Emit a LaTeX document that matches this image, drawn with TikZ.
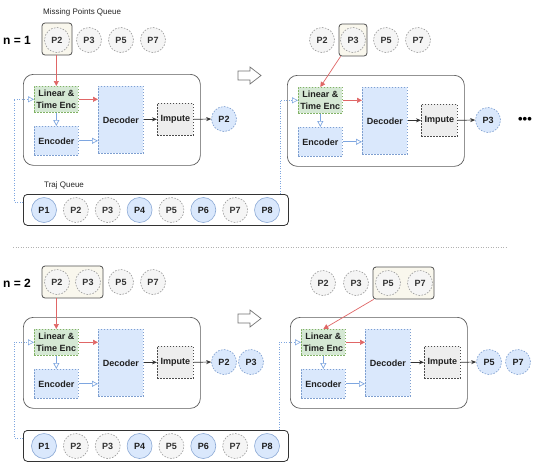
\documentclass[tikz,border=0pt]{standalone}
\usepackage{fontspec}
\setmainfont{Liberation Sans}
\usetikzlibrary{arrows.meta,calc}
\definecolor{gfill}{HTML}{D5E8D4}\definecolor{gline}{HTML}{82B366}
\definecolor{bfill}{HTML}{DAE8FC}\definecolor{bline}{HTML}{7E9FD0}
\definecolor{qfill}{HTML}{F5F5F5}\definecolor{qline}{HTML}{9A9A9A}
\definecolor{selfill}{HTML}{F9F7ED}\definecolor{selline}{HTML}{505050}
\definecolor{redarr}{HTML}{E06666}\definecolor{bluearr}{HTML}{7EA6E0}
\definecolor{panline}{HTML}{5A5A5A}\definecolor{impfill}{HTML}{EEEEEE}
\tikzset{
  x=1pt,y=-1pt,
  lbl/.style={font=\fontsize{9}{11.5}\selectfont\bfseries, align=center, inner sep=0pt, text=black!88},
  dsh/.style={dash pattern=on 1.6pt off 1.4pt, line width=0.6pt},
  panelbox/.style={anchor=north west, draw=panline, line width=0.7pt, rounded corners=10pt, fill=white, inner sep=0pt},
  linbox/.style={lbl, anchor=north west, dsh, draw=gline, fill=gfill},
  encbox/.style={lbl, anchor=north west, dsh, draw=bline, fill=bfill},
  impbox/.style={lbl, anchor=north west, dsh, draw=black!70, fill=impfill},
  qc/.style={lbl, circle, minimum size=25pt, dsh, draw=qline, fill=qfill, text=black!80},
  bc/.style={lbl, circle, minimum size=25pt, dsh, draw=bline, fill=bfill},
  bcs/.style={lbl, circle, minimum size=25pt, line width=0.6pt, draw=bline!90, fill=bfill},
  selbox/.style={draw=selline, line width=0.8pt, fill=selfill, rounded corners=3pt, inner sep=0pt},
  trajbox/.style={anchor=north west, draw=black!80, line width=0.8pt, rounded corners=4pt, minimum width=265pt, minimum height=31pt, inner sep=0pt},
  redline/.style={draw=redarr, line width=0.7pt, -{Triangle[length=5pt,width=5pt]}},
  blueline/.style={draw=bluearr, line width=0.7pt, -{Triangle[open,length=6pt,width=6pt]}},
  blackline/.style={draw=black!80, line width=0.7pt, -{Stealth[length=5pt,width=4pt]}},
  dotline/.style={draw=bluearr, line width=0.6pt, dash pattern=on 1pt off 1.5pt, -{Triangle[open,length=6pt,width=6pt]}},
  hollowarrow/.style={draw=black!55, line width=0.7pt, fill=white, line join=miter},
  divider/.style={draw=black!30, line width=0.7pt, dash pattern=on 1pt off 1.5pt},
  smalltxt/.style={font=\fontsize{8}{9}\selectfont, anchor=west, inner sep=0pt, text=black!85},
  bigtxt/.style={font=\fontsize{12}{14}\selectfont\bfseries, anchor=west, inner sep=0pt},
}
\newcommand{\mypanel}[3]{%
  \begin{scope}[shift={(#2,#3)}]
    \node[panelbox, minimum width=177pt, minimum height=91pt] (#1pan) at (0,0) {};
    \node[linbox, minimum width=44pt, minimum height=26pt] (#1lin) at (11,12) {Linear \&\\Time Enc};
    \node[encbox, minimum width=44pt, minimum height=29pt] (#1enc) at (11,52) {Encoder};
    \node[encbox, minimum width=45pt, minimum height=67pt] (#1dec) at (75,12) {Decoder};
    \node[impbox, minimum width=36pt, minimum height=32pt] (#1imp) at (134,29) {Impute};
  \end{scope}
  \draw[redline] (#1lin.east) -- (#1lin.east -| #1dec.west);
  \draw[blueline] (#1lin.south) -- (#1enc.north);
  \draw[blueline] (#1enc.east) -- (#1enc.east -| #1dec.west);
  \draw[blackline] (#1imp.west -| #1dec.east) -- (#1imp.west);
}
\begin{document}
\begin{tikzpicture}
\useasboundingbox (0,0) rectangle (540,464);
\fill[white] (0,0) rectangle (540,464);

% ---------- n = 1 ----------
\node[bigtxt] (n1) at (3,40) {n = 1};
\node[smalltxt] (mpq) at (43,12) {Missing Points Queue};
\node[selbox, minimum width=30pt, minimum height=32pt] (TLsel) at (57,39) {};
\node[qc] (TLq1) at (57,40) {P2};
\node[qc] (TLq2) at (89,40) {P3};
\node[qc] (TLq3) at (121,40) {P5};
\node[qc] (TLq4) at (153,40) {P7};

\node[selbox, minimum width=28pt, minimum height=32pt] (TRsel) at (353,40) {};
\node[qc] (TRq1) at (322,40) {P2};
\node[qc] (TRq2) at (353,40) {P3};
\node[qc] (TRq3) at (386,40) {P5};
\node[qc] (TRq4) at (418,40) {P7};

\mypanel{TL}{23}{74}
\mypanel{TR}{287}{75}

\node[bc] (TLo) at (224,119) {P2};
\node[bc] (TRo) at (488,120) {P3};
\node[font=\fontsize{13}{14}\selectfont\bfseries, inner sep=0pt] (dots) at (525,120) {\textbullet\textbullet\textbullet};
\draw[blackline] (TLimp.east) -- (TLo.west);
\draw[blackline] (TRimp.east) -- (TRo.west);

\draw[redline] (TLsel.south -| TLlin.north) -- (TLlin.north);
\draw[redline] ([xshift=2pt]TRsel.south west) -- (TRlin.north);

\draw[hollowarrow] (238,71) -- (250,71) -- (250,67) -- (261,75.5) -- (250,84) -- (250,80) -- (238,80) -- cycle;

\node[smalltxt] (tq) at (44,185) {Traj Queue};
\node[trajbox] (traj1) at (23,194) {};
\coordinate (t1a) at ([yshift=7.5pt]traj1.west);
\coordinate (t1b) at ([xshift=-9pt]traj1.north east);
\draw[dotline] (t1a) -- ++(-9,0) |- (TLlin.west);
\draw[dotline] (t1b) |- (TRlin.west);
\foreach \i/\lab/\st in {0/P1/bcs,1/P2/qc,2/P3/qc,3/P4/bcs,4/P5/qc,5/P6/bcs,6/P7/qc,7/P8/bcs}{
  \node[\st] (ta\i) at ({44+31.86*\i},210) {\lab};
}

\draw[divider] (13,247) -- (508,247);

% ---------- n = 2 ----------
\node[bigtxt] (n2) at (3,283) {n = 2};
\node[selbox, minimum width=61pt, minimum height=32pt] (BLsel) at (72.5,282) {};
\node[qc] (BLq1) at (57,282) {P2};
\node[qc] (BLq2) at (88,282) {P3};
\node[qc] (BLq3) at (121,282) {P5};
\node[qc] (BLq4) at (153,282) {P7};

\node[selbox, minimum width=61pt, minimum height=32pt] (BRsel) at (403.5,283) {};
\node[qc] (BRq1) at (323,283) {P2};
\node[qc] (BRq2) at (356,283) {P3};
\node[qc] (BRq3) at (388,283) {P5};
\node[qc] (BRq4) at (420,283) {P7};

\mypanel{BL}{23}{317}
\mypanel{BR}{290}{317}

\node[bc] (BLo1) at (224,362) {P2};
\node[bc] (BLo2) at (251,362) {P3};
\node[bc] (BRo1) at (489,362) {P5};
\node[bc] (BRo2) at (518,362) {P7};
\draw[blackline] (BLimp.east) -- (BLo1.west);
\draw[blackline] (BRimp.east) -- (BRo1.west);

\draw[redline] (BLsel.south -| BLlin.north) -- (BLlin.north);
\draw[redline] ([xshift=1pt]BRsel.south west) -- (BRlin.north);

\draw[hollowarrow] (238,314) -- (250,314) -- (250,310) -- (261,318.5) -- (250,327) -- (250,323) -- (238,323) -- cycle;

\node[trajbox] (traj2) at (23,430) {};
\coordinate (t2a) at ([yshift=7.5pt]traj2.west);
\coordinate (t2b) at ([xshift=-10pt]traj2.north east);
\draw[dotline] (t2a) -- ++(-9,0) |- (BLlin.west);
\draw[dotline] (t2b) |- (BRlin.west);
\foreach \i/\lab/\st in {0/P1/bcs,1/P2/qc,2/P3/qc,3/P4/bcs,4/P5/qc,5/P6/bcs,6/P7/qc,7/P8/bcs}{
  \node[\st] (tb\i) at ({44+31.86*\i},446) {\lab};
}
\end{tikzpicture}
\end{document}
